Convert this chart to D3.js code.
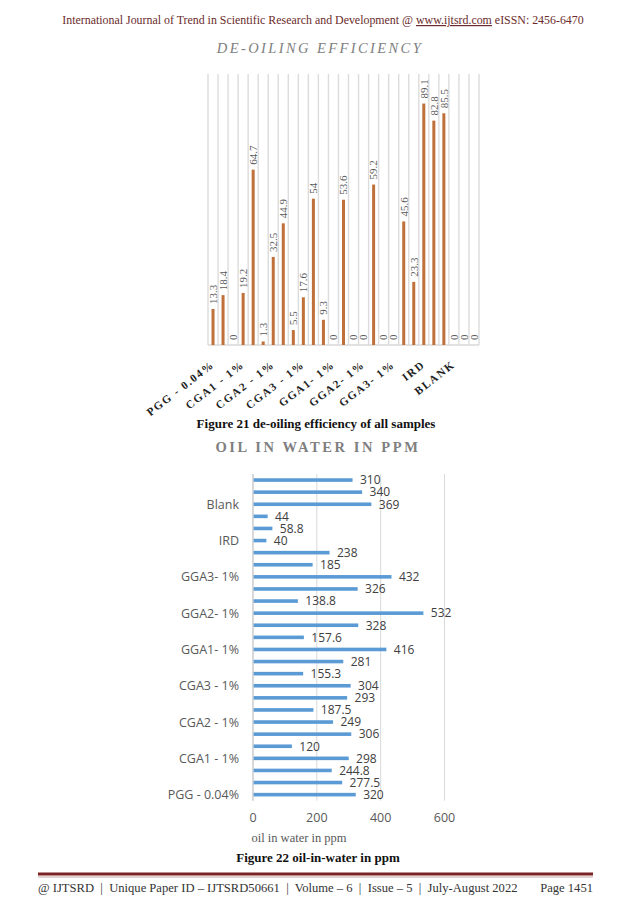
<!DOCTYPE html>
<html>
<head>
<meta charset="utf-8">
<script src="https://cdn.jsdelivr.net/npm/d3@7"></script>
<style>
body { margin:0; background:#fff; }
svg { display:block; }
</style>
</head>
<body>
<svg id="page"></svg>
<script>
// ---------- data ----------
var groups = ["PGG - 0.04%", "CGA1 - 1%", "CGA2 - 1%", "CGA3 - 1%", "GGA1- 1%", "GGA2- 1%", "GGA3- 1%", "IRD", "BLANK"]
var groups2 = ["PGG - 0.04%", "CGA1 - 1%", "CGA2 - 1%", "CGA3 - 1%", "GGA1- 1%", "GGA2- 1%", "GGA3- 1%", "IRD", "Blank"]
// 3 samples per group, in order
var efficiency = [13.3, 18.4, 0, 19.2, 64.7, 1.3, 32.5, 44.9, 5.5, 17.6, 54, 9.3, 0, 53.6, 0, 0, 59.2, 0, 0, 45.6, 23.3, 89.1, 82.8, 85.5, 0, 0, 0]
var oilPpm = [320, 277.5, 244.8, 298, 120, 306, 249, 187.5, 293, 304, 155.3, 281, 416, 157.6, 328, 532, 138.8, 326, 432, 185, 238, 40, 58.8, 44, 369, 340, 310]
var ppmTicks = [0, 200, 400, 600]

var screen = {width:638, height:903}
var svg = d3.select("#page").attr("width", screen.width).attr("height", screen.height)

var serif = "'Liberation Serif', 'DejaVu Serif', serif"
var sans = "'Open Sans', 'Noto Sans', sans-serif"

//----------page header / footer-----------
var drawPage = function()
{
	var head = svg.append("text")
	.attr("x", 323).attr("y", 24)
	.attr("text-anchor", "middle")
	.style("font-family", serif).style("font-size", "11.9px")
	.attr("fill", "#6a2b2b")
	head.append("tspan").text("International Journal of Trend in Scientific Research and Development @ ")
	head.append("tspan").text("www.ijtsrd.com").style("text-decoration", "underline")
	head.append("tspan").text(" eISSN: 2456-6470")

	svg.append("line")
	.attr("x1", 38).attr("x2", 593).attr("y1", 874).attr("y2", 874)
	.attr("stroke", "#7a2323").attr("stroke-width", 3)
	svg.append("line")
	.attr("x1", 38).attr("x2", 593).attr("y1", 877).attr("y2", 877)
	.attr("stroke", "#b08080").attr("stroke-width", 0.7)

	svg.append("text")
	.attr("x", 38).attr("y", 892)
	.style("font-family", serif).style("font-size", "12.6px").attr("fill", "#333")
	.attr("xml:space", "preserve")
	.text("@ IJTSRD  |  Unique Paper ID \u2013 IJTSRD50661  |  Volume \u2013 6  |  Issue \u2013 5  |  July-August 2022")
	svg.append("text")
	.attr("x", 593).attr("y", 892).attr("text-anchor", "end")
	.style("font-family", serif).style("font-size", "12.6px").attr("fill", "#333")
	.text("Page 1451")

	svg.append("text")
	.attr("x", 316).attr("y", 428).attr("text-anchor", "middle")
	.style("font-family", serif).style("font-size", "13px").style("font-weight", "bold")
	.attr("fill", "#111")
	.text("Figure 21 de-oiling efficiency of all samples")
	svg.append("text")
	.attr("x", 318).attr("y", 862).attr("text-anchor", "middle")
	.style("font-family", serif).style("font-size", "13px").style("font-weight", "bold")
	.attr("fill", "#111")
	.text("Figure 22 oil-in-water in ppm")
}

//----------chart 1: de-oiling efficiency-----------
var drawEfficiency = function()
{
	var idx = d3.range(efficiency.length)
	var xScale = d3.scaleBand().domain(idx).range([208, 479])
	var yScale = d3.scaleLinear().domain([0, 100]).range([345, 74])

	svg.append("text")
	.attr("x", 320).attr("y", 53).attr("text-anchor", "middle")
	.style("font-family", serif).style("font-size", "14.5px")
	.style("font-style", "italic")
	.style("letter-spacing", "2.4px")
	.attr("fill", "#808080")
	.text("DE-OILING EFFICIENCY")

	var g = svg.append("g")
	// category separators
	g.selectAll(".sep")
	.data(d3.range(efficiency.length + 1))
	.enter()
	.append("line")
	.attr("x1", function(i){ return 208 + i * xScale.step() })
	.attr("x2", function(i){ return 208 + i * xScale.step() })
	.attr("y1", yScale(100)).attr("y2", yScale(0))
	.attr("stroke", "#dcdcdc").attr("stroke-width", 1.4)

	g.append("line")
	.attr("x1", 208).attr("x2", 479).attr("y1", yScale(0)).attr("y2", yScale(0))
	.attr("stroke", "#d9d9d9").attr("stroke-width", 1.4)

	g.selectAll("rect")
	.data(efficiency)
	.enter()
	.append("rect")
	.attr("x", function(d, i){ return xScale(i) + xScale.bandwidth()/2 - 1.5 })
	.attr("y", function(d){ return yScale(d) })
	.attr("width", 3)
	.attr("height", function(d){ return yScale(0) - yScale(d) })
	.attr("fill", "#c0703a")

	g.selectAll(".val")
	.data(efficiency)
	.enter()
	.append("text")
	.attr("transform", function(d, i)
	{
		return "translate(" + (xScale(i) + xScale.bandwidth()/2 + 3.8) + "," + (yScale(d) - 5) + ") rotate(-90)"
	})
	.style("font-family", serif).style("font-size", "11px")
	.attr("fill", "#595959")
	.text(function(d){ return d })

	g.selectAll(".cat")
	.data(groups)
	.enter()
	.append("text")
	.attr("transform", function(d, i)
	{
		return "translate(" + (xScale(i*3) + xScale.bandwidth()/2 + 2) + ",366) rotate(-38)"
	})
	.attr("text-anchor", "end")
	.style("font-family", serif).style("font-size", "11.2px").style("font-weight", "bold")
	.style("letter-spacing", "1.6px")
	.attr("fill", "#222")
	.text(function(d){ return d })
}

//----------chart 2: oil in water-----------
var drawOil = function()
{
	var idx = d3.range(oilPpm.length)
	var xScale = d3.scaleLinear().domain([0, 600]).range([253, 444.5])
	var yScale = d3.scaleBand().domain(idx).range([800.7, 474])

	svg.append("text")
	.attr("x", 318).attr("y", 452).attr("text-anchor", "middle")
	.style("font-family", serif).style("font-size", "14.5px").style("font-weight", "bold")
	.style("letter-spacing", "2.6px")
	.attr("fill", "#7f7f7f")
	.text("OIL IN WATER IN PPM")

	var g = svg.append("g")
	g.selectAll(".grid")
	.data(ppmTicks.slice(1))
	.enter()
	.append("line")
	.attr("x1", function(d){ return xScale(d) })
	.attr("x2", function(d){ return xScale(d) })
	.attr("y1", 474).attr("y2", 800.7)
	.attr("stroke", "#d9d9d9").attr("stroke-width", 1)

	g.append("line")
	.attr("x1", xScale(0)).attr("x2", xScale(0)).attr("y1", 474).attr("y2", 800.7)
	.attr("stroke", "#bfbfbf").attr("stroke-width", 1.2)

	g.selectAll("rect")
	.data(oilPpm)
	.enter()
	.append("rect")
	.attr("x", xScale(0) + 0.6)
	.attr("y", function(d, i){ return yScale(i) + yScale.bandwidth()/2 - 1.8 })
	.attr("width", function(d){ return xScale(d) - xScale(0) })
	.attr("height", 3.6)
	.attr("fill", "#5b9bd5")

	g.selectAll(".val")
	.data(oilPpm)
	.enter()
	.append("text")
	.attr("x", function(d){ return xScale(d) + 8 })
	.attr("y", function(d, i){ return yScale(i) + yScale.bandwidth()/2 })
	.attr("dy", "0.36em")
	.style("font-family", sans).style("font-size", "12px")
	.attr("fill", "#404040")
	.text(function(d){ return d })

	g.selectAll(".cat")
	.data(groups2)
	.enter()
	.append("text")
	.attr("x", 239)
	.attr("y", function(d, i){ return yScale(i*3) + yScale.bandwidth()/2 })
	.attr("dy", "0.36em")
	.attr("text-anchor", "end")
	.style("font-family", sans).style("font-size", "12.5px")
	.attr("fill", "#595959")
	.text(function(d){ return d })

	g.selectAll(".tick")
	.data(ppmTicks)
	.enter()
	.append("text")
	.attr("x", function(d){ return xScale(d) })
	.attr("y", 822)
	.attr("text-anchor", "middle")
	.style("font-family", sans).style("font-size", "12.5px")
	.attr("fill", "#595959")
	.text(function(d){ return d })

	svg.append("text")
	.attr("x", 299).attr("y", 842).attr("text-anchor", "middle")
	.style("font-family", serif).style("font-size", "12.5px")
	.attr("fill", "#595959")
	.text("oil in water in ppm")
}

drawPage()
drawEfficiency()
drawOil()
</script>
</body>
</html>
